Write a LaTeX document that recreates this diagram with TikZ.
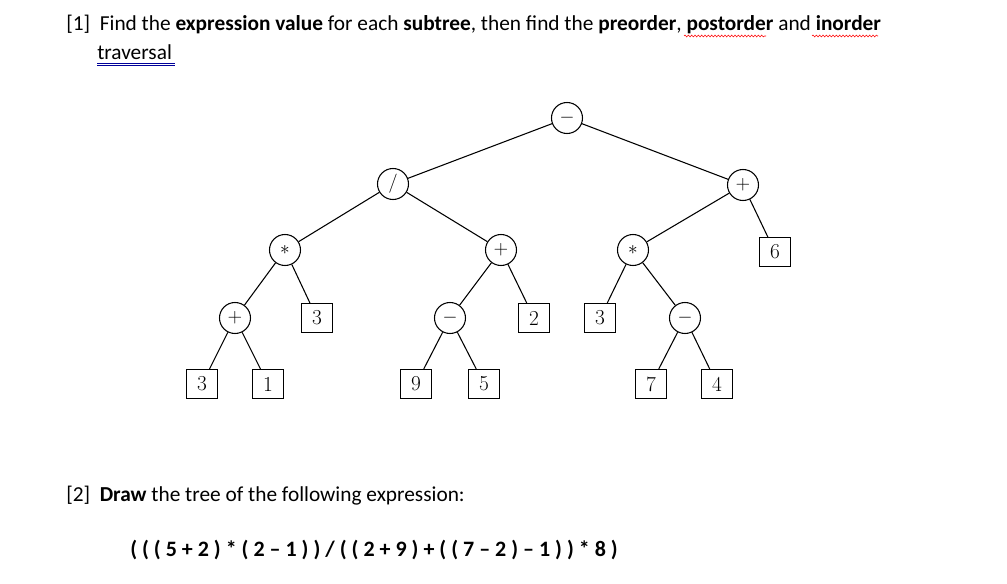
\documentclass[tikz,border=0pt]{standalone}
\usepackage{fontspec}
\setmainfont{Carlito}
\newfontfamily\treefont{Latin Modern Roman}
\usetikzlibrary{decorations.pathmorphing}
\begin{document}
\begin{tikzpicture}[x=0.75pt,y=-0.75pt,
  op/.style={circle,draw,thick,minimum size=31*0.75pt,inner sep=0pt,font=\treefont\fontsize{14}{14}\selectfont},
  leaf/.style={rectangle,draw,thick,minimum width=31*0.75pt,minimum height=29*0.75pt,inner sep=0pt,font=\treefont\fontsize{16}{16}\selectfont},
  edge/.style={thick},
  txt/.style={anchor=base west,inner sep=0pt,font=\fontsize{16}{16}\selectfont},
  wavy/.style={red,decorate,decoration={snake,amplitude=0.7pt,segment length=2.5pt}}]
\useasboundingbox (0,0) rectangle (1007,584);
\node[txt] (t1) at (66,31) {[1]\ \ Find the \textbf{expression value} for each \textbf{subtree}, then find the \textbf{preorder}, \textbf{postorder} and \textbf{inorder}};
\node[txt] (t2) at (97,60) {traversal};
\draw[blue!60!black] (t2.south west)++(0,3) -- ++(78,0) ++(-78,2) -- ++(78,0);
\coordinate (w1) at (684,36); \coordinate (w2) at (766,36);
\coordinate (w3) at (812,36); \coordinate (w4) at (878,36);
\draw[wavy] (w1) -- (w2); \draw[wavy] (w3) -- (w4);
\node[txt] (t3) at (66,502) {[2]\ \ \textbf{Draw} the tree of the following expression:};
\node[txt,font=\bfseries\fontsize{16.5}{16}\selectfont] (t4) at (130,556) {( ( ( 5 + 2 ) * ( 2 -- 1 ) ) / ( ( 2 + 9 ) + ( ( 7 -- 2 ) -- 1 ) ) * 8 )};
\node[op] (r) at (567,118) {$-$};
\node[op] (d) at (393,184) {$/$};
\node[op] (p1) at (743,185) {$+$};
\node[op] (m1) at (285,250) {$*$};
\node[op] (p2) at (501,250) {$+$};
\node[op] (m2) at (633,250) {$*$};
\node[leaf] (l6) at (775,252) {6};
\node[op] (p3) at (235,318) {$+$};
\node[leaf] (l3a) at (317,318) {3};
\node[op] (s1) at (450,318) {$-$};
\node[leaf] (l2) at (534,318) {2};
\node[leaf] (l3b) at (600,318) {3};
\node[op] (s2) at (685,318) {$-$};
\node[leaf] (l3c) at (202,384) {3};
\node[leaf] (l1) at (268,384) {1};
\node[leaf] (l9) at (416,384) {9};
\node[leaf] (l5) at (484,384) {5};
\node[leaf] (l7) at (651,384) {7};
\node[leaf] (l4) at (717,384) {4};
\draw[edge] (r)--(d) (r)--(p1) (d)--(m1) (d)--(p2) (p1)--(m2) (p1)--(l6)
 (m1)--(p3) (m1)--(l3a) (p2)--(s1) (p2)--(l2) (m2)--(l3b) (m2)--(s2)
 (p3)--(l3c) (p3)--(l1) (s1)--(l9) (s1)--(l5) (s2)--(l7) (s2)--(l4);
\end{tikzpicture}
\end{document}
